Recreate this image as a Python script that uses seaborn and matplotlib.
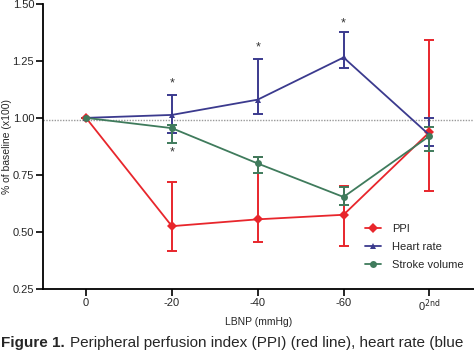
import numpy as np
import pandas as pd
import matplotlib.pyplot as plt
import seaborn as sns

# ---- data ----
lbnp = ['0', '-20', '-40', '-60', '0$^{\\mathrm{2nd}}$']
ppi = [1.00, 0.525, 0.555, 0.575, 0.937]
ppi_lo = [1.00, 0.415, 0.455, 0.44, 0.68]
ppi_hi = [1.00, 0.72, 0.83, 0.70, 1.34]
hr = [1.00, 1.013, 1.08, 1.265, 0.925]
hr_lo = [1.00, 0.933, 1.016, 1.218, 0.878]
hr_hi = [1.00, 1.10, 1.257, 1.376, 1.00]
sv = [1.00, 0.955, 0.80, 0.653, 0.92]
sv_lo = [1.00, 0.892, 0.758, 0.618, 0.853]
sv_hi = [1.00, 0.969, 0.83, 0.695, 0.962]
star_x = [1, 1, 2, 3]
star_y = [1.15, 0.848, 1.308, 1.415]

series = ['PPI', 'Heart rate', 'Stroke volume']
colors = {'PPI': '#e8262c', 'Heart rate': '#3b3a8e', 'Stroke volume': '#3f7b5c'}
markers = {'PPI': 'D', 'Heart rate': '^', 'Stroke volume': 'o'}

df = pd.DataFrame({
    'pos': list(range(5)) * 3,
    'value': ppi + hr + sv,
    'lo': ppi_lo + hr_lo + sv_lo,
    'hi': ppi_hi + hr_hi + sv_hi,
    'series': np.repeat(series, 5),
})

sns.set_style('ticks')
plt.rcParams['font.family'] = ['Liberation Sans', 'DejaVu Sans']

fig = plt.figure(figsize=(4.74, 3.54), dpi=100)
ax = fig.add_axes([0.091, 0.184, 0.909, 0.805])

ax.axhline(0.99, color='#999999', linestyle=(0, (1, 1)), linewidth=1.0, zorder=1)

for name in series:
    d = df[df['series'] == name]
    ax.errorbar(d['pos'], d['value'],
                yerr=[d['value'] - d['lo'], d['hi'] - d['value']],
                fmt='none', ecolor=colors[name], elinewidth=1.4,
                capsize=3.5, capthick=1.4, zorder=2)

sns.lineplot(data=df, x='pos', y='value', hue='series', style='series',
             hue_order=series, style_order=series, palette=colors,
             markers=markers, dashes=False, markersize=5, linewidth=1.3,
             markeredgewidth=0, ax=ax, zorder=3)

for x, y in zip(star_x, star_y):
    ax.text(x, y, '*', ha='center', va='center', fontsize=9, color='#333333')

ax.set_xlim(-0.5, 4.52)
ax.set_ylim(0.25, 1.5)
ax.set_xticks(range(5))
ax.set_xticklabels(lbnp)
ax.set_yticks([0.25, 0.5, 0.75, 1.0, 1.25, 1.5])
ax.set_yticklabels(['0.25', '0.50', '0.75', '1.00', '1.25', '1.50'])
ax.tick_params(labelsize=8, length=5, width=1.2, color='black', pad=1.5)
ax.set_xlabel('LBNP (mmHg)', fontsize=7.5, va='center')
ax.set_ylabel('% of baseline (x100)', fontsize=7.5, va='center')
ax.xaxis.set_label_coords(0.5, -0.116)
ax.yaxis.set_label_coords(-0.085, 0.5)
for s in ['left', 'bottom']:
    ax.spines[s].set_linewidth(1.3)
    ax.spines[s].set_color('black')
sns.despine(ax=ax)

leg = ax.legend(loc='lower right', bbox_to_anchor=(1.0, 0.03), frameon=False,
                fontsize=8, handlelength=1.5, handletextpad=1.0,
                labelspacing=0.75, title=None)

fig.text(0.003, 0.01, 'Figure 1.', fontsize=11, fontweight='bold', ha='left', va='bottom')
fig.text(0.148, 0.01, 'Peripheral perfusion index (PPI) (red line), heart rate (blue',
         fontsize=11, ha='left', va='bottom')

fig.savefig('out.png', dpi=100)
